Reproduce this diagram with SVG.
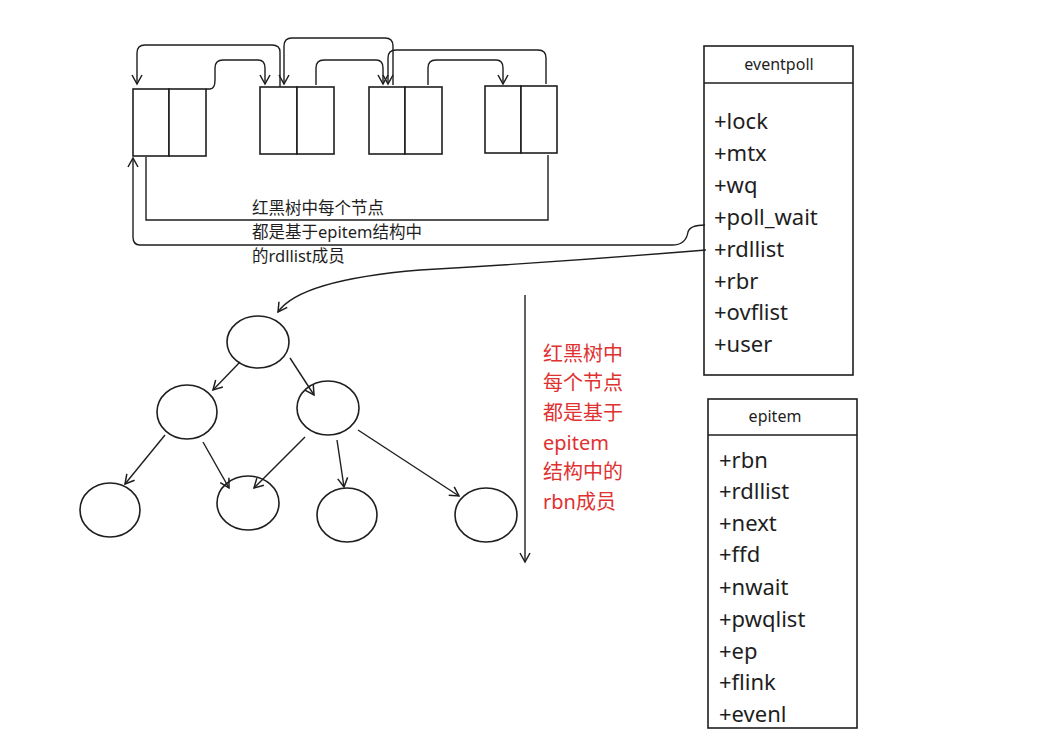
<svg xmlns="http://www.w3.org/2000/svg" width="1037" height="752" viewBox="0 0 1037 752">
<defs>
<marker id="ah" markerWidth="12" markerHeight="12" refX="10" refY="6" orient="auto" markerUnits="userSpaceOnUse"><path d="M1,1 L10,6 L1,11" fill="none" stroke="#1e1e1e" stroke-width="1.5"/></marker>
<style>
.s{fill:none;stroke:#1e1e1e;stroke-width:1.6}
.b{fill:#fff;stroke:#1e1e1e;stroke-width:1.6}
.c{stroke:#1e1e1e;stroke-width:1.4;fill:none}
.t{font-family:"Noto Sans","Noto Sans CJK SC",sans-serif;fill:#1e1e1e}
.i{font-size:22px}
.r{fill:#e03131;font-size:20px}
</style>
</defs>
<rect width="1037" height="752" fill="#fff"/>
<g id="list">
<g id="n1"><rect class="b" x="133" y="89" width="36" height="67"/><rect class="b" x="169" y="89" width="37" height="67"/></g>
<g id="n2"><rect class="b" x="260" y="87" width="37" height="67"/><rect class="b" x="297" y="87" width="37" height="67"/></g>
<g id="n3"><rect class="b" x="369" y="87" width="36" height="67"/><rect class="b" x="405" y="87" width="37" height="67"/></g>
<g id="n4"><rect class="b" x="485" y="86" width="36" height="67"/><rect class="b" x="521" y="86" width="36" height="67"/></g>
</g>
<g id="tree">
<ellipse id="root" class="b" cx="258" cy="342" rx="31" ry="26"/>
<ellipse id="l" class="b" cx="187" cy="412" rx="30" ry="27"/>
<ellipse id="r" class="b" cx="328" cy="408" rx="31" ry="27"/>
<ellipse id="l1" class="b" cx="110" cy="510" rx="30" ry="27"/>
<ellipse id="l2" class="b" cx="248" cy="503" rx="31" ry="27"/>
<ellipse id="l3" class="b" cx="347" cy="515" rx="30" ry="27"/>
<ellipse id="l4" class="b" cx="486" cy="515" rx="31" ry="27"/>
</g>
<g id="connectors">
<path class="c" d="M280,87 V52 Q280,45 272,45 H145 Q137,45 137,53 V84" marker-end="url(#ah)"/>
<path class="c" d="M206,89 H210 Q215,89 215,80 V68 Q215,60 223,60 H258 Q265,60 265,68 V84" marker-end="url(#ah)"/>
<path class="c" d="M393,85 V46 Q393,38 385,38 H292 Q284,38 284,46 V84" marker-end="url(#ah)"/>
<path class="c" d="M316,85 V68 Q316,60 324,60 H376 Q383,60 383,68 V84" marker-end="url(#ah)"/>
<path class="c" d="M546,84 V58 Q546,50 538,50 H396 Q388,50 388,58 V84" marker-end="url(#ah)"/>
<path class="c" d="M428,85 V68 Q428,60 436,60 H496 Q503,60 503,68 V84" marker-end="url(#ah)"/>
<path class="c" d="M146,157 V220 H548 V155"/>
<path class="c" d="M705,225 Q690,225 688,232 Q686,245 672,245 H140 Q133,245 133,237 V158" marker-end="url(#ah)"/>
<path class="c" d="M706,250 Q560,262 420,270 Q300,280 278,312" marker-end="url(#ah)" stroke-width="1.8"/>
<path class="c" d="M240,362 L213,390" marker-end="url(#ah)"/>
<path class="c" d="M290,358 L314,395" marker-end="url(#ah)"/>
<path class="c" d="M165,435 L125,484" marker-end="url(#ah)"/>
<path class="c" d="M203,442 L229,488" marker-end="url(#ah)"/>
<path class="c" d="M305,437 L254,488" marker-end="url(#ah)"/>
<path class="c" d="M337,440 L344,487" marker-end="url(#ah)"/>
<path class="c" d="M358,430 L459,496" marker-end="url(#ah)"/>
<path class="c" d="M525,295 L525,562" marker-end="url(#ah)" stroke-width="1.8"/>
</g>
<g id="label" class="t" font-size="16.5">
<text x="252" y="214">红黑树中每个节点</text>
<text x="252" y="238">都是基于epitem结构中</text>
<text x="252" y="262">的rdllist成员</text>
</g>
<g id="redlabel" class="t r">
<text x="543" y="361">红黑树中</text>
<text x="543" y="390">每个节点</text>
<text x="543" y="420">都是基于</text>
<text x="543" y="450">epitem</text>
<text x="543" y="479">结构中的</text>
<text x="543" y="509">rbn成员</text>
</g>
<g id="eventpoll">
<rect class="s" x="704" y="46" width="149" height="329"/>
<line class="s" x1="704" y1="83" x2="853" y2="83"/>
<text class="t" x="779" y="70" font-size="16" text-anchor="middle">eventpoll</text>
<g class="t i">
<text x="714" y="129">+lock</text><text x="714" y="161">+mtx</text><text x="714" y="193">+wq</text><text x="714" y="225">+poll_wait</text><text x="714" y="257">+rdllist</text><text x="714" y="289">+rbr</text><text x="714" y="320">+ovflist</text><text x="714" y="352">+user</text>
</g>
</g>
<g id="epitem">
<rect class="s" x="708" y="399" width="149" height="329"/>
<line class="s" x1="708" y1="435" x2="857" y2="435"/>
<text class="t" x="775" y="422" font-size="16" text-anchor="middle">epitem</text>
<g class="t i">
<text x="719" y="468">+rbn</text><text x="719" y="499">+rdllist</text><text x="719" y="531">+next</text><text x="719" y="562">+ffd</text><text x="719" y="595">+nwait</text><text x="719" y="627">+pwqlist</text><text x="719" y="659">+ep</text><text x="719" y="690">+flink</text><text x="719" y="722">+evenl</text>
</g>
</g>
</svg>
